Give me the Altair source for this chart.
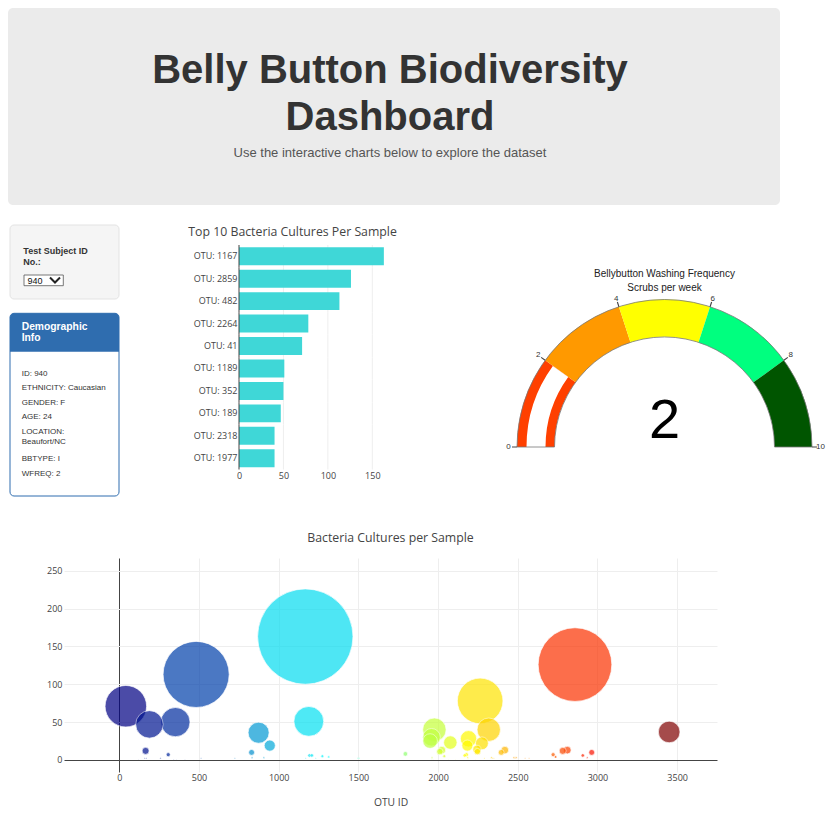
import math
import pandas as pd
import altair as alt

# ---------------- data ----------------
header_title = ["Belly Button Biodiversity", "Dashboard"]
header_subtitle = "Use the interactive charts below to explore the dataset"
selector_label = ["Test Subject ID", "No.:"]
selected_id = "940"
panel_heading = ["Demographic", "Info"]
demo_lines = ["ID: 940", "ETHNICITY: Caucasian", "GENDER: F", "AGE: 24",
              "LOCATION:", "Beaufort/NC", "BBTYPE: I", "WFREQ: 2"]

otu_ids = [1167, 2859, 482, 2264, 41, 1189, 352, 189, 2318, 1977,
           3450, 874, 1959, 2191, 1950, 2077, 2275, 944, 2184, 2244,
           2024, 2419, 2811, 165, 2782, 2247, 2011, 2396, 830, 2964,
           1795, 2722, 307, 2178, 2908, 1193, 2167, 1208, 2039, 1274,
           2739, 2737, 1314, 1962, 2186, 2335, 2936, 907, 833, 2483,
           2475, 2491, 2291, 159, 2571, 2350, 2342, 2546, 725, 170,
           1505, 513, 259, 1169, 258, 1232, 1497, 1498, 1503, 412,
           2235, 1960, 1968, 121, 2065, 340, 2110, 2188, 357, 342]
sample_values = [163, 126, 113, 78, 71, 51, 50, 47, 40, 40,
                 37, 36, 30, 28, 25, 23, 22, 19, 19, 14,
                 13, 13, 13, 12, 12, 11, 11, 10, 10, 10,
                 8, 7, 7, 7, 6, 6, 6, 6, 5, 5,
                 4, 4, 4, 3, 3, 3, 3, 3, 3, 3,
                 3, 3, 2, 2, 2, 2, 2, 2, 2, 2,
                 2, 2, 2, 2, 2, 2, 2, 2, 2, 1,
                 1, 1, 1, 1, 1, 1, 1, 1, 1, 1]

bar_title = "Top 10 Bacteria Cultures Per Sample"
bar_ticks = [0, 50, 100, 150]

bubble_title = "Bacteria Cultures per Sample"
bubble_x_title = "OTU ID"
bubble_x_ticks = [0, 500, 1000, 1500, 2000, 2500, 3000, 3500]
bubble_y_ticks = [0, 50, 100, 150, 200, 250]

jet_stops = [0, 0.125, 0.375, 0.625, 0.875, 1]
jet_colors = ["rgb(0,0,131)", "rgb(0,60,170)", "rgb(5,255,255)",
              "rgb(255,255,0)", "rgb(250,0,0)", "rgb(128,0,0)"]

gauge_title = ["Bellybutton Washing Frequency", "Scrubs per week"]
wfreq = 2
gauge_steps_start = [0, 2, 4, 6, 8]
gauge_steps_end = [2, 4, 6, 8, 10]
gauge_step_colors = ["#ff4000", "#ff9900", "#ffff00", "#00ff7f", "#005500"]
gauge_ticks = [0, 2, 4, 6, 8, 10]

# ---------------- helpers ----------------
one = pd.DataFrame({"k": [0]})
SANS = "Liberation Sans"
OPEN = "Open Sans"


def label(text, x, y, size, weight="normal", color="#333", font=SANS,
          align="left", baseline="middle"):
    return alt.Chart(one).mark_text(
        text=text, font=font, fontSize=size, fontWeight=weight, color=color,
        align=align, baseline=baseline
    ).encode(x=alt.value(x), y=alt.value(y))


def box(x, x2, y, y2, **kw):
    return alt.Chart(one).mark_rect(**kw).encode(
        x=alt.value(x), x2=alt.value(x2), y=alt.value(y), y2=alt.value(y2))


zero_grid = alt.condition("datum.value === 0", alt.value("#444444"), alt.value("#eeeeee"))
axis_common = dict(labelFont=OPEN, labelFontSize=9, labelColor="#444",
                   domain=False, ticks=False)

# ---------------- header ----------------
header = alt.layer(
    label(header_title[0], 382, 75, 40, "bold", "#333", align="center", baseline="alphabetic"),
    label(header_title[1], 382, 122, 40, "bold", "#333", align="center", baseline="alphabetic"),
    label(header_subtitle, 382, 145, 13, "normal", "#555", align="center"),
).properties(width=772, height=197,
             view=alt.ViewBackground(fill="#ebebeb", stroke=None, cornerRadius=5))

# ---------------- row 2: selector, demographics, bar chart, gauge ----------------
BLUE = "#2f6daf"
demo_y = [168.5, 183, 197.5, 212, 227, 237, 254, 269]
row2_layers = [
    box(2, 111, 20, 94, fill="#f5f5f5", stroke="#e3e3e3", cornerRadius=4),
    label(selector_label[0], 15.3, 45.7, 9, "bold"),
    label(selector_label[1], 15.3, 56.7, 9, "bold"),
    box(16, 55.3, 70, 80.7, fill="white", stroke="#555", strokeWidth=0.8),
    label(selected_id, 19.5, 75.5, 9, "normal", "#111"),
    alt.Chart(one).mark_point(shape="M-1,-0.5L0,0.5L1,-0.5", filled=False, size=100,
                              strokeWidth=2, color="#222", opacity=1)
    .encode(x=alt.value(47), y=alt.value(75)),
    box(2, 111, 108.3, 291, fill="white", stroke=BLUE, strokeWidth=1, cornerRadius=4),
    box(2, 111, 108.3, 146.7, fill=BLUE, cornerRadiusTopLeft=4, cornerRadiusTopRight=4),
    label(panel_heading[0], 13.7, 121.7, 10.3, "bold", "white"),
    label(panel_heading[1], 13.7, 133.3, 10.3, "bold", "white"),
]
for txt, yy in zip(demo_lines, demo_y):
    row2_layers.append(label(txt, 13.7, yy, 8, "normal", "#333"))

# bar chart (scales mapped onto its own pixel box inside the row)
bar_labels = [f"OTU: {i}" for i in otu_ids[:10]]
bar_df = pd.DataFrame({"label": bar_labels, "value": sample_values[:10]})
grid_df = pd.DataFrame([{"label": lb, "g": g} for g in bar_ticks[1:] for lb in bar_labels])

bar_x_scale = alt.Scale(domain=[0, 171.6], nice=False, range=[231, 383.5])
bar_y_scale = alt.Scale(paddingInner=0.2, paddingOuter=0.1, range=[40, 264.5])
bar_x = alt.X("value:Q", scale=bar_x_scale,
              axis=alt.Axis(values=bar_ticks, title=None, grid=False,
                            labelFlush=False, labelPadding=2, offset=-88.5, **axis_common))
bar_y = alt.Y("label:N", sort=None, scale=bar_y_scale,
              axis=alt.Axis(title=None, labelPadding=2, offset=-231, **axis_common))
bar_grid = alt.Chart(grid_df).mark_tick(size=22.45, thickness=1, color="#eeeeee", opacity=1).encode(
    x=alt.X("g:Q"), y=alt.Y("label:N", sort=None))
bars = alt.Chart(bar_df).mark_bar(color="#3fd7d7").encode(x=bar_x, y=bar_y)
bar_zero = alt.Chart(bar_df).transform_calculate(zero="0").mark_tick(
    size=22.45, thickness=1, color="#444", opacity=1).encode(
    x=alt.X("zero:Q"), y=alt.Y("label:N", sort=None))
row2_layers += [bar_grid, bars, bar_zero,
                label(bar_title, 180.3, 26.7, 12.3, "normal", "#444", font=OPEN)]

# gauge
GX, GY = 656.5, 242
theta_scale = alt.Scale(domain=[0, 10], range=[-math.pi / 2, math.pi / 2])
gpos = dict(x=alt.value(GX), y=alt.value(GY))
steps_df = pd.DataFrame({"start": gauge_steps_start, "end": gauge_steps_end,
                         "color": gauge_step_colors})
steps = alt.Chart(steps_df).mark_arc(radius=147.5, radius2=110).encode(
    theta=alt.Theta("start:Q", scale=theta_scale, stack=None),
    theta2="end:Q",
    color=alt.Color("color:N", scale=None),
    **gpos)
value_bar = alt.Chart(pd.DataFrame({"start": [0], "end": [wfreq]})).mark_arc(
    radius=138, radius2=119, color="white").encode(
    theta=alt.Theta("start:Q", scale=theta_scale, stack=None), theta2="end:Q", **gpos)
border = alt.Chart(pd.DataFrame({"start": [0], "end": [10]})).mark_arc(
    radius=147.5, radius2=110, fillOpacity=0, stroke="#777", strokeWidth=0.8).encode(
    theta=alt.Theta("start:Q", scale=theta_scale, stack=None), theta2="end:Q", **gpos)
ticks_df = pd.DataFrame({"tick": gauge_ticks})
tick_marks = alt.Chart(ticks_df).transform_calculate(
    t0="datum.tick - 0.012", t1="datum.tick + 0.012"
).mark_arc(radius=152.5, radius2=147.5, color="#444").encode(
    theta=alt.Theta("t0:Q", scale=theta_scale, stack=None), theta2="t1:Q", **gpos)
tick_labels = alt.Chart(ticks_df).mark_text(
    radius=156, fontSize=8, font=SANS, color="#333").encode(
    theta=alt.Theta("tick:Q", scale=theta_scale, stack=None), text="tick:Q", **gpos)
center_val = alt.Chart(pd.DataFrame({"v": [wfreq]})).mark_text(
    fontSize=56, font=SANS, color="black", baseline="alphabetic").encode(
    text="v:Q", x=alt.value(GX), y=alt.value(GY - 9))
row2_layers += [steps, value_bar, border, tick_marks, tick_labels, center_val,
                label(gauge_title[0], GX, GY - 173, 10, "normal", "#222", align="center"),
                label(gauge_title[1], GX, GY - 159, 10, "normal", "#222", align="center")]

row2 = alt.layer(*row2_layers).properties(width=822, height=353)

# ---------------- row 3: bubble chart ----------------
bub_df = pd.DataFrame({"otu_id": otu_ids, "sample_value": sample_values})
cmin, cmax = min(otu_ids), max(otu_ids)
jet_scale = alt.Scale(domain=[cmin + s * (cmax - cmin) for s in jet_stops],
                      range=jet_colors, interpolate="rgb")
points = alt.Chart(bub_df).transform_calculate(
    area="PI * pow(0.33 * datum.sample_value, 2)"
).mark_circle(opacity=0.7, stroke="white", strokeWidth=0.7).encode(
    x=alt.X("otu_id:Q",
            scale=alt.Scale(domain=[-347, 3750], nice=False, zero=False, range=[56, 709]),
            axis=alt.Axis(values=bubble_x_ticks, format="d", title=bubble_x_title,
                          titleFont=OPEN, titleFontSize=10.3, titleFontWeight="normal",
                          titleColor="#444", titlePadding=15, grid=True, gridColor=zero_grid,
                          labelFlush=False, labelPadding=1, **axis_common)),
    y=alt.Y("sample_value:Q", scale=alt.Scale(domain=[-15.9, 266.8], nice=False, zero=False),
            axis=alt.Axis(values=bubble_y_ticks, format="d", title=None, grid=True,
                          gridColor=zero_grid, labelFlush=False, labelPadding=2, offset=-56,
                          **axis_common)),
    color=alt.Color("otu_id:Q", scale=jet_scale, legend=None),
    size=alt.Size("area:Q", scale=None, legend=None),
)
row3 = alt.layer(
    points,
    label(bubble_title, 382.5, -20, 12.3, "normal", "#444", font=OPEN, align="center"),
).properties(width=709, height=214)

chart = alt.vconcat(header, row2, row3, spacing=0, bounds="flush").properties(
    padding=0, background="white"
).configure_view(stroke=None)

chart.save("out.html", embed_options={"renderer": "svg", "actions": False})
